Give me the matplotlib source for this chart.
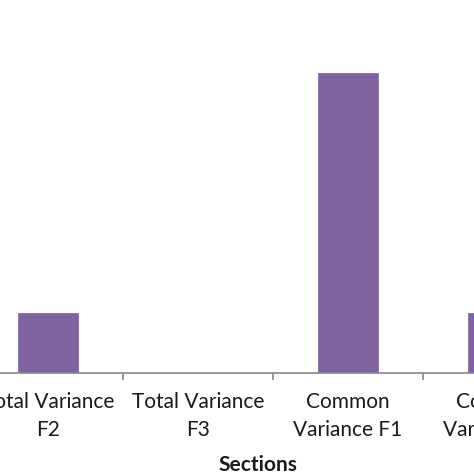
import matplotlib
matplotlib.use("Agg")
import matplotlib.pyplot as plt

categories = ["Total Variance\nF2", "Total Variance\nF3", "Common\nVariance F1", "Common\nVariance F2"]
values = [1, 0, 5, 1]

plt.rcParams['font.family'] = ['Lato', 'DejaVu Sans']

fig = plt.figure(figsize=(4.74, 4.74), dpi=100)
W = 474.0
left_px, right_px = -27, 573
base_px = 373
ax = fig.add_axes([left_px / W, (W - base_px) / W, (right_px - left_px) / W, 360 / W])

pos = list(range(len(categories)))
ax.bar(pos, values, width=0.4, color="#8064A2", edgecolor="#7a5f9c", linewidth=0.5)
ax.set_xlim(-0.5, len(categories) - 0.5)
ax.set_ylim(0, 6)

ax.set_xticks(pos)
ax.set_xticklabels(categories, fontsize=15, color="#1a1a1a", linespacing=1.45)
ax.tick_params(axis='x', which='major', length=0, pad=14)
ax.set_xticks([p + 0.5 for p in pos[:-1]], minor=True)
ax.tick_params(axis='x', which='minor', length=5, color="#868686", width=1.2, direction='out')
ax.set_yticks([])
for s in ['top', 'right', 'left']:
    ax.spines[s].set_visible(False)
ax.spines['bottom'].set_color("#868686")
ax.spines['bottom'].set_linewidth(1.2)

ax.set_xlabel("Sections", fontsize=15, fontweight='bold', color="#1a1a1a")
ax.xaxis.set_label_coords((258 - left_px) / (right_px - left_px), -(455 - base_px) / 360, transform=ax.transAxes)

fig.savefig("out.png", dpi=100)
